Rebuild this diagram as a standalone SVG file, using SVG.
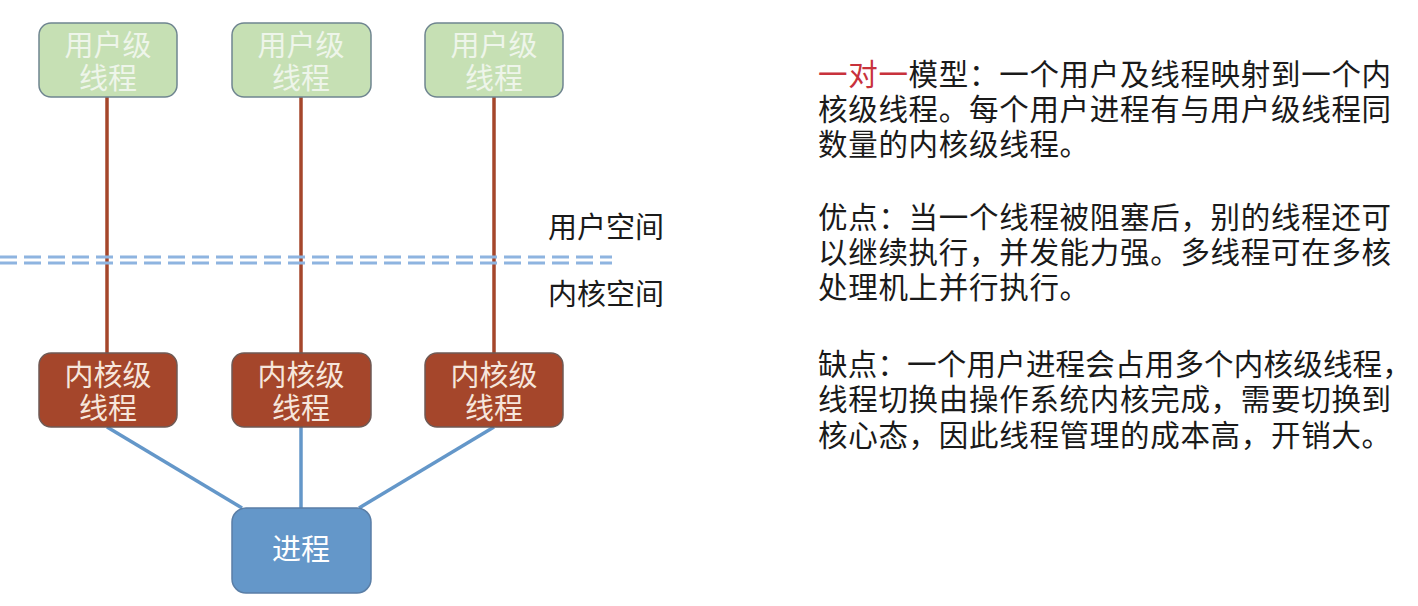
<svg xmlns="http://www.w3.org/2000/svg" width="1418" height="606" viewBox="0 0 1418 606">
<style>
.t{font-family:"Noto Sans CJK SC","Liberation Sans",sans-serif;}
.ut{fill:#eef5ea;font-size:29px;text-anchor:middle;}
.kt{fill:#f6e6dc;font-size:29px;text-anchor:middle;}
.pt{fill:#ffffff;font-size:29px;text-anchor:middle;}
.body{fill:#1a1a1a;font-size:29.5px;letter-spacing:0.7px;}
.u{fill:#c6e0b4;stroke:#6f8590;stroke-width:1.5;}
.k{fill:#a5462b;stroke:#6f5a55;stroke-width:1.5;}
.p{fill:#6497c9;stroke:#5a7ea6;stroke-width:1.5;}
.red{stroke:#a5462b;stroke-width:3.5;fill:none;}
.blue{stroke:#6497c9;stroke-width:3.5;fill:none;}
.dash{stroke:#8eb4e0;stroke-width:3;stroke-dasharray:17 7;fill:none;}
</style>
<rect width="1418" height="606" fill="#ffffff"/>
<g id="connectors">
<line class="red" x1="107" y1="96" x2="107" y2="353"/>
<line class="red" x1="301" y1="96" x2="301" y2="353"/>
<line class="red" x1="494" y1="96" x2="494" y2="353"/>
<line class="blue" x1="107" y1="427" x2="242" y2="508"/>
<line class="blue" x1="301" y1="427" x2="301" y2="508"/>
<line class="blue" x1="494" y1="427" x2="359" y2="508"/>
</g>
<g id="boundary">
<line class="dash" x1="0" y1="257" x2="612" y2="257"/>
<line class="dash" x1="0" y1="263" x2="612" y2="263"/>
<text class="t body" x="548" y="238" style="font-size:29px;letter-spacing:0">用户空间</text>
<text class="t body" x="548" y="305" style="font-size:29px;letter-spacing:0">内核空间</text>
</g>
<g id="user1"><rect class="u" x="39" y="23" width="138" height="74" rx="12"/><text class="t ut" x="108" y="56">用户级</text><text class="t ut" x="108" y="89">线程</text></g>
<g id="user2"><rect class="u" x="232" y="23" width="139" height="74" rx="12"/><text class="t ut" x="301" y="56">用户级</text><text class="t ut" x="301" y="89">线程</text></g>
<g id="user3"><rect class="u" x="425" y="23" width="138" height="74" rx="12"/><text class="t ut" x="494" y="56">用户级</text><text class="t ut" x="494" y="89">线程</text></g>
<g id="kernel1"><rect class="k" x="39" y="353" width="138" height="74" rx="12"/><text class="t kt" x="108" y="386">内核级</text><text class="t kt" x="108" y="419">线程</text></g>
<g id="kernel2"><rect class="k" x="232" y="353" width="139" height="74" rx="12"/><text class="t kt" x="301" y="386">内核级</text><text class="t kt" x="301" y="419">线程</text></g>
<g id="kernel3"><rect class="k" x="425" y="353" width="138" height="74" rx="12"/><text class="t kt" x="494" y="386">内核级</text><text class="t kt" x="494" y="419">线程</text></g>
<g id="process"><rect class="p" x="232" y="508" width="139" height="85" rx="14"/><text class="t pt" x="301" y="560">进程</text></g>
<g id="notes">
<text class="t body" x="818" y="85"><tspan fill="#c8323c">一对一</tspan>模型：一个用户及线程映射到一个内</text>
<text class="t body" x="818" y="120">核级线程。每个用户进程有与用户级线程同</text>
<text class="t body" x="818" y="155">数量的内核级线程。</text>
<text class="t body" x="818" y="228">优点：当一个线程被阻塞后，别的线程还可</text>
<text class="t body" x="818" y="263">以继续执行，并发能力强。多线程可在多核</text>
<text class="t body" x="818" y="298">处理机上并行执行。</text>
<text class="t body" x="818" y="375" style="letter-spacing:0.2px">缺点：一个用户进程会占用多个内核级线程，</text>
<text class="t body" x="818" y="410">线程切换由操作系统内核完成，需要切换到</text>
<text class="t body" x="818" y="446">核心态，因此线程管理的成本高，开销大。</text>
</g>
</svg>
